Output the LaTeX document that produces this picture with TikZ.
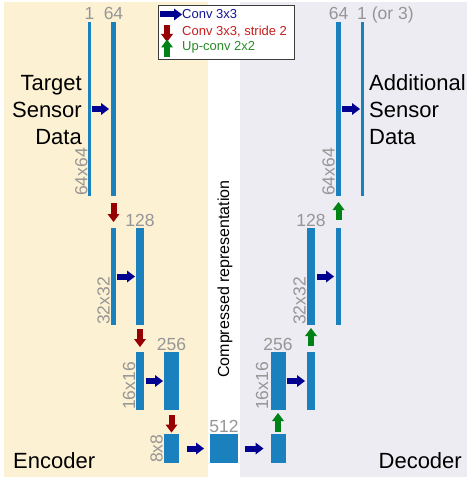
\documentclass[tikz,border=0pt]{standalone}
\usepackage{fontspec}
\setmainfont{Liberation Sans}
\usetikzlibrary{arrows.meta}
\definecolor{encbg}{RGB}{253,241,211}
\definecolor{decbg}{RGB}{237,236,242}
\definecolor{barc}{RGB}{26,128,190}
\definecolor{convblue}{RGB}{0,0,145}
\definecolor{convred}{RGB}{150,0,0}
\definecolor{upgreen}{RGB}{0,130,20}
\definecolor{labgray}{RGB}{150,150,150}
\definecolor{legblue}{RGB}{20,20,150}
\definecolor{legred}{RGB}{200,30,30}
\definecolor{leggreen}{RGB}{40,140,40}
\definecolor{legframe}{RGB}{60,60,60}
\begin{document}
\begin{tikzpicture}[x=1pt,y=-1pt,
  bar/.style={fill=barc, inner sep=0pt, outer sep=0pt, minimum width=#1},
  toplab/.style={font=\fontsize{17.5}{20}\selectfont, text=labgray, anchor=base, inner sep=0pt},
  sidelab/.style={font=\fontsize{17.5}{20}\selectfont, text=labgray, rotate=90, anchor=south west, inner sep=0pt},
  bigtext/.style={font=\fontsize{22}{27}\selectfont, inner sep=0pt},
  legtext/.style={font=\fontsize{13}{15}\selectfont, inner sep=0pt, anchor=base west},
  convarrow/.style={draw=convblue, line width=6pt, -{Triangle[width=12pt,length=8pt,line width=0pt]}},
  poolarrow/.style={draw=convred, line width=6pt, -{Triangle[width=12pt,length=8pt,line width=0pt]}},
  uparrow/.style={draw=upgreen, line width=6pt, -{Triangle[width=12pt,length=8pt,line width=0pt]}}]
\useasboundingbox (0,0) rectangle (474,484);
\fill[encbg] (4,2) rectangle (208,477);
\fill[decbg] (240,2) rectangle (467,477);

% bars
\node[bar=3pt,minimum height=174pt] (e1a) at (89.5,109) {};
\node[bar=5pt,minimum height=174pt] (e1b) at (113.5,109) {};
\node[bar=5pt,minimum height=97pt] (e2a) at (113.5,276.5) {};
\node[bar=8pt,minimum height=97pt] (e2b) at (140,276.5) {};
\node[bar=8pt,minimum height=58pt] (e3a) at (140,381) {};
\node[bar=15pt,minimum height=58pt] (e3b) at (171.5,381) {};
\node[bar=15pt,minimum height=29pt] (e4) at (171.5,448.5) {};
\node[bar=28pt,minimum height=29pt] (c) at (224,448.5) {};
\node[bar=15pt,minimum height=29pt] (d4) at (278,448.5) {};
\node[bar=15pt,minimum height=58pt] (d3a) at (278,381) {};
\node[bar=8pt,minimum height=58pt] (d3b) at (311,381) {};
\node[bar=8pt,minimum height=97pt] (d2a) at (311,276.5) {};
\node[bar=5pt,minimum height=97pt] (d2b) at (338.5,276.5) {};
\node[bar=5pt,minimum height=174pt] (d1a) at (338.5,109) {};
\node[bar=3pt,minimum height=174pt] (d1b) at (362.5,109) {};

% channel labels
\node[toplab] (le1a) at ([yshift=2pt]e1a.north) {1};
\node[toplab] (le1b) at ([yshift=2pt]e1b.north) {64};
\node[toplab] (le2b) at ([yshift=1.5pt]e2b.north) {128};
\node[toplab] (le3b) at ([yshift=1.5pt]e3b.north) {256};
\node[toplab] (lc) at ([yshift=2pt]c.north) {512};
\node[toplab] (ld3a) at ([yshift=1.5pt]d3a.north) {256};
\node[toplab] (ld2a) at ([yshift=1.5pt]d2a.north) {128};
\node[toplab] (ld1a) at ([yshift=2pt]d1a.north) {64};
\node[toplab, anchor=base west] (ld1b) at ([xshift=-5.5pt,yshift=2pt]d1b.north) {1 (or 3)};

% size labels
\node[sidelab] (se1) at ([xshift=-0.3pt]e1a.south west) {64x64};
\node[sidelab] (se2) at ([xshift=-1pt]e2a.south west) {32x32};
\node[sidelab] (se3) at ([xshift=-0.5pt]e3a.south west) {16x16};
\node[sidelab] (se4) at ([xshift=-1pt]e4.south west) {8x8};
\node[sidelab] (sd3) at ([xshift=-2pt]d3a.south west) {16x16};
\node[sidelab] (sd2) at ([xshift=-1pt]d2a.south west) {32x32};
\node[sidelab] (sd1) at ([xshift=-1pt]d1a.south west) {64x64};

% conv arrows
\draw[convarrow,shorten <=1pt,shorten >=2pt] (e1a) -- (e1b);
\draw[convarrow,shorten <=1pt,shorten >=1pt] (e2a) -- (e2b);
\draw[convarrow,shorten <=2pt,shorten >=1pt] (e3a) -- (e3b);
\draw[convarrow,shorten <=8pt,shorten >=6pt] (e4) -- (c);
\draw[convarrow,shorten <=7pt,shorten >=7pt] (c) -- (d4);
\draw[convarrow,shorten <=1pt,shorten >=2pt] (d3a) -- (d3b);
\draw[convarrow,shorten <=2pt,shorten >=2pt] (d2a) -- (d2b);
\draw[convarrow,shorten <=1pt,shorten >=1pt] (d1a) -- (d1b);

% pooling arrows
\draw[poolarrow,shorten <=7pt,shorten >=6pt] (e1b) -- (e2a);
\draw[poolarrow,shorten <=4pt,shorten >=5pt] (e2b) -- (e3a);
\draw[poolarrow,shorten <=5pt,shorten >=1.5pt] (e3b) -- (e4);

% up-conv arrows
\draw[uparrow,shorten <=2pt,shorten >=3pt] (d4) -- (d3a);
\draw[uparrow,shorten <=6pt,shorten >=3pt] (d3b) -- (d2a);
\draw[uparrow,shorten <=8pt,shorten >=6pt] (d2b) -- (d1a);

% big texts
\node[bigtext, align=right, anchor=east] (tgt) at (82,110) {Target\\Sensor\\Data};
\node[bigtext, align=left, anchor=west] (add) at (369,110) {Additional\\Sensor\\Data};
\node[bigtext, anchor=base west] (enc) at (13,468) {Encoder};
\node[bigtext, anchor=base east] (dec) at (462,468) {Decoder};
\node[font=\fontsize{16}{18}\selectfont, rotate=90, inner sep=0pt] (comp) at (225,279) {Compressed representation};

% legend
\node[draw=legframe, fill=white, line width=0.8pt, minimum width=136.5pt, minimum height=54pt, inner sep=0pt] (leg) at (226.25,32.5) {};
\node[legtext, text=legblue] (l1) at (182,19) {Conv 3x3};
\node[legtext, text=legred] (l2) at (182,36) {Conv 3x3, stride 2};
\node[legtext, text=leggreen] (l3) at (182,50.5) {Up-conv 2x2};
\coordinate (lb1) at (160,14.5);
\coordinate (lb2) at (182,14.5);
\coordinate (lr1) at (167,25);
\coordinate (lr2) at (167,42);
\coordinate (lg1) at (167,57);
\coordinate (lg2) at (167,39.5);
\draw[convarrow] (lb1) -- (lb2);
\draw[poolarrow] (lr1) -- (lr2);
\draw[uparrow] (lg1) -- (lg2);
\end{tikzpicture}
\end{document}
